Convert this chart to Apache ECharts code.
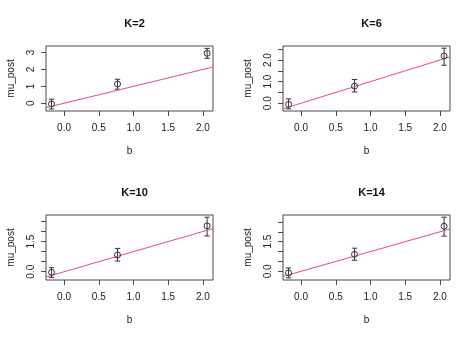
<!DOCTYPE html>
<html>
<head>
<meta charset="utf-8">
<script src="https://cdn.jsdelivr.net/npm/echarts@6/dist/echarts.min.js"></script>
<style>html,body{margin:0;padding:0;background:#fff}#c{width:474px;height:338px}</style>
</head>
<body>
<div id="c"></div>
<script>
// ---- data ----
const titles = ['K=2', 'K=6', 'K=10', 'K=14'];
const b = [-0.18, 0.77, 2.06];
const mu2 = [-0.04, 1.14, 2.96];
const lo2 = [-0.34, 0.83, 2.66];
const hi2 = [0.24, 1.42, 3.25];
const mu6 = [-0.05, 0.79, 2.19];
const lo6 = [-0.26, 0.52, 1.76];
const hi6 = [0.20, 1.10, 2.55];
const mu10 = [-0.03, 0.83, 2.28];
const lo10 = [-0.28, 0.53, 1.78];
const hi10 = [0.20, 1.16, 2.71];
const mu14 = [-0.08, 0.86, 2.28];
const lo14 = [-0.33, 0.56, 1.78];
const hi14 = [0.17, 1.17, 2.74];
const lineIntercept = [0, 0, 0, 0];
const lineSlope = [1, 1, 1, 1];
const xTicks = [0, 0.5, 1.0, 1.5, 2.0];
const xLabels = [0, 0.5, 1.0, 1.5, 2.0];
const xLim = [-0.26, 2.145];
const yTicks2 = [0, 1, 2, 3];
const yLabels2 = [0, 1, 2, 3];
const yTicks6 = [0, 0.5, 1.0, 1.5, 2.0, 2.5];
const yLabels6 = [0, 1.0, 2.0];
const yTicks10 = [0, 0.5, 1.0, 1.5, 2.0, 2.5];
const yLabels10 = [0, 1.5];
const yTicks14 = [0, 0.5, 1.0, 1.5, 2.0, 2.5];
const yLabels14 = [0, 1.5];
const yLim2 = [-0.46, 3.39];
const yLim6 = [-0.36, 2.65];
const yLim10 = [-0.41, 2.82];
const yLim14 = [-0.44, 2.85];

const panels = [
  {mu: mu2, lo: lo2, hi: hi2, yt: yTicks2, yl: yLabels2, lim: yLim2, fmt: v => v.toFixed(0)},
  {mu: mu6, lo: lo6, hi: hi6, yt: yTicks6, yl: yLabels6, lim: yLim6, fmt: v => v.toFixed(1)},
  {mu: mu10, lo: lo10, hi: hi10, yt: yTicks10, yl: yLabels10, lim: yLim10, fmt: v => v.toFixed(1)},
  {mu: mu14, lo: lo14, hi: hi14, yt: yTicks14, yl: yLabels14, lim: yLim14, fmt: v => v.toFixed(1)}
];

// ---- layout ----
const FONT = '"Liberation Sans", Arial, Helvetica, sans-serif';
const boxL = [46, 283, 46, 283];
const boxT = [46, 46, 215, 215];
const boxW = 167, boxH = 65;
const ink = '#222';
const frame = '#4a4a4a';

const grid = [], xAxis = [], yAxis = [], series = [], title = [];
panels.forEach((p, i) => {
  grid.push({left: boxL[i], top: boxT[i], width: boxW, height: boxH, show: true,
    borderColor: frame, borderWidth: 1, backgroundColor: 'transparent', containLabel: false});
  title.push({text: titles[i], left: boxL[i] + boxW / 2, top: boxT[i] - 33, textAlign: 'center',
    textStyle: {fontFamily: FONT, fontSize: 11, fontWeight: 'bold', color: '#111'}});
  xAxis.push({type: 'value', gridIndex: i, min: xLim[0], max: xLim[1], position: 'bottom',
    name: 'b', nameLocation: 'middle', nameGap: 35,
    nameTextStyle: {fontFamily: FONT, fontSize: 10, color: ink},
    axisLine: {show: false, onZero: false}, splitLine: {show: false},
    axisTick: {show: true, customValues: xTicks, length: 5, lineStyle: {color: frame}},
    axisLabel: {customValues: xLabels, formatter: v => v.toFixed(1), margin: 12.5,
      fontFamily: FONT, fontSize: 10, color: ink}});
  yAxis.push({type: 'value', gridIndex: i, min: p.lim[0], max: p.lim[1], position: 'left',
    name: 'mu_post', nameLocation: 'middle', nameGap: 30,
    nameTextStyle: {fontFamily: FONT, fontSize: 10, color: ink},
    axisLine: {show: false, onZero: false}, splitLine: {show: false},
    axisTick: {show: true, customValues: p.yt, length: 5, lineStyle: {color: frame}},
    axisLabel: {customValues: p.yl, formatter: p.fmt, rotate: 90, margin: 10,
      fontFamily: FONT, fontSize: 10, color: ink}});
  // fitted line
  series.push({type: 'line', xAxisIndex: i, yAxisIndex: i, symbol: 'none', silent: true,
    clip: true, lineStyle: {color: '#DF536B', width: 1},
    data: xLim.map(x => [x, lineIntercept[i] + lineSlope[i] * x])});
  // error bars
  series.push({type: 'custom', xAxisIndex: i, yAxisIndex: i, silent: true,
    data: b.map((x, k) => [x, p.lo[k], p.hi[k]]),
    renderItem: (params, api) => {
      const top = api.coord([api.value(0), api.value(2)]);
      const bot = api.coord([api.value(0), api.value(1)]);
      const w = 2.7;
      const st = {stroke: '#333', lineWidth: 1, fill: null};
      return {type: 'group', children: [
        {type: 'line', shape: {x1: top[0], y1: top[1], x2: bot[0], y2: bot[1]}, style: st},
        {type: 'line', shape: {x1: top[0] - w, y1: top[1], x2: top[0] + w, y2: top[1]}, style: st},
        {type: 'line', shape: {x1: bot[0] - w, y1: bot[1], x2: bot[0] + w, y2: bot[1]}, style: st}
      ]};
    }});
  // points
  series.push({type: 'scatter', xAxisIndex: i, yAxisIndex: i, symbol: 'circle', symbolSize: 6,
    z: 5, itemStyle: {color: 'rgba(0,0,0,0)', borderColor: '#333', borderWidth: 1, opacity: 1},
    data: b.map((x, k) => [x, p.mu[k]])});
});

const chart = echarts.init(document.getElementById('c'), null, {renderer: 'canvas'});
chart.setOption({animation: false, backgroundColor: '#fff', title, grid, xAxis, yAxis, series});
</script>
</body>
</html>
